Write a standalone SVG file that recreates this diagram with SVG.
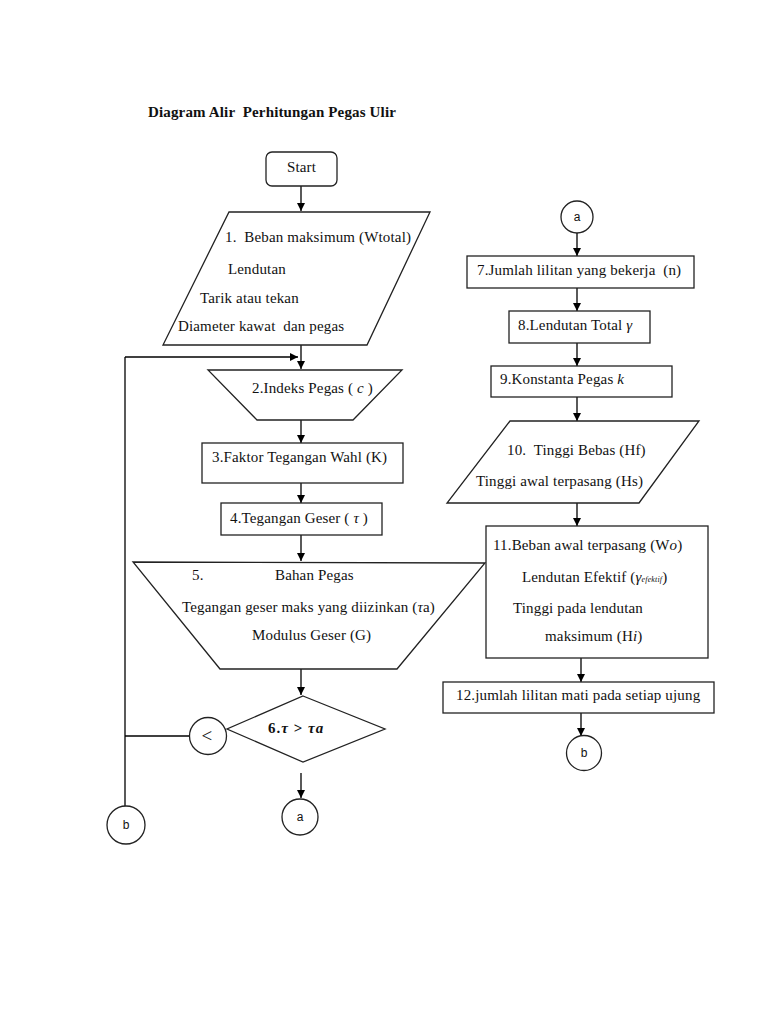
<svg xmlns="http://www.w3.org/2000/svg" width="768" height="1024" viewBox="0 0 768 1024" xml:space="preserve">
<defs>
<marker id="ah" markerWidth="10" markerHeight="10" refX="9" refY="5" orient="auto" markerUnits="userSpaceOnUse">
<path d="M1,1 L9,5 L1,9 Z" fill="#000"/>
</marker>
</defs>
<style>
.s{fill:#fff;stroke:#222;stroke-width:1.3}
.t{font-family:"Liberation Serif","Times New Roman",serif;font-size:15px;letter-spacing:0.15px;fill:#111;white-space:pre}
.c{stroke:#000;stroke-width:1.3;fill:none}
.i{font-style:italic}
.l{font-family:"Liberation Sans",Arial,sans-serif;font-size:12px;fill:#111}
</style>
<rect width="768" height="1024" fill="#fff"/>
<text class="t" x="148" y="117" font-weight="bold">Diagram Alir  Perhitungan Pegas Ulir</text>

<g id="connectors">
<line class="c" x1="301" y1="186" x2="301" y2="211" marker-end="url(#ah)"/>
<line class="c" x1="301" y1="345" x2="301" y2="369" marker-end="url(#ah)"/>
<line class="c" x1="125" y1="806" x2="125" y2="357"/>
<line class="c" x1="125" y1="357" x2="298" y2="357" marker-end="url(#ah)"/>
<line class="c" x1="301" y1="420" x2="301" y2="443" marker-end="url(#ah)"/>
<line class="c" x1="301" y1="483" x2="301" y2="503" marker-end="url(#ah)"/>
<line class="c" x1="301" y1="535" x2="301" y2="561" marker-end="url(#ah)"/>
<line class="c" x1="301" y1="669" x2="301" y2="695" marker-end="url(#ah)"/>
<line class="c" x1="190" y1="736" x2="125" y2="736" stroke="#555"/>
<line class="c" x1="301" y1="773" x2="301" y2="798" marker-end="url(#ah)"/>
<line class="c" x1="577" y1="233" x2="577" y2="256" marker-end="url(#ah)"/>
<line class="c" x1="577" y1="288" x2="577" y2="311" marker-end="url(#ah)"/>
<line class="c" x1="577" y1="343" x2="577" y2="366" marker-end="url(#ah)"/>
<line class="c" x1="577" y1="397" x2="577" y2="421" marker-end="url(#ah)"/>
<line class="c" x1="577" y1="503" x2="577" y2="526" marker-end="url(#ah)"/>
<line class="c" x1="581" y1="658" x2="581" y2="682" marker-end="url(#ah)"/>
<line class="c" x1="581" y1="713" x2="581" y2="736" marker-end="url(#ah)"/>
</g>

<g id="start">
<rect class="s" x="266" y="152" width="71" height="34" rx="6"/>
<text class="t" x="301.5" y="172" text-anchor="middle">Start</text>
</g>

<g id="n1">
<polygon class="s" points="229,212 430,212 367,345 163,345"/>
<text class="t" x="225" y="242">1.  Beban maksimum (Wtotal)</text>
<text class="t" x="228" y="274">Lendutan</text>
<text class="t" x="200" y="303">Tarik atau tekan</text>
<text class="t" x="178" y="331">Diameter kawat  dan pegas</text>
</g>

<g id="n2">
<polygon class="s" points="208,370 402,370 353,420 257,420"/>
<text class="t" x="252" y="393">2.Indeks Pegas ( <tspan class="i">c</tspan> )</text>
</g>

<g id="n3">
<rect class="s" x="202" y="443" width="201" height="40"/>
<text class="t" x="212" y="462">3.Faktor Tegangan Wahl (K)</text>
</g>

<g id="n4">
<rect class="s" x="221" y="503" width="161" height="32"/>
<text class="t" x="230" y="523">4.Tegangan Geser ( <tspan class="i">τ</tspan> )</text>
</g>

<g id="n5">
<polygon class="s" points="133,562 485,563 397,669 220,669"/>
<text class="t" x="192" y="580">5.</text>
<text class="t" x="275" y="580">Bahan Pegas</text>
<text class="t" x="182" y="612">Tegangan geser maks yang diizinkan (<tspan class="i">τ</tspan>a)</text>
<text class="t" x="252" y="640">Modulus Geser (G)</text>
</g>

<g id="n6">
<polygon class="s" points="303,696 385,729 303,762 227,729"/>
<text class="t" x="268" y="733" font-weight="bold" style="letter-spacing:1px">6.<tspan class="i">τ</tspan> &gt; <tspan class="i">τa</tspan></text>
</g>

<g id="lt">
<circle class="s" cx="208" cy="736" r="18.5"/>
<text class="t" x="207" y="742" text-anchor="middle" style="font-size:19px">&lt;</text>
</g>

<g id="a1">
<circle class="s" cx="300" cy="817" r="18"/>
<text class="l" x="300" y="821" text-anchor="middle">a</text>
</g>

<g id="b1">
<circle class="s" cx="126" cy="825" r="19"/>
<text class="l" x="126" y="829" text-anchor="middle">b</text>
</g>

<g id="a2">
<circle class="s" cx="577" cy="217" r="16"/>
<text class="l" x="577" y="221" text-anchor="middle">a</text>
</g>

<g id="n7">
<rect class="s" x="467" y="256" width="227" height="32"/>
<text class="t" x="477" y="275">7.Jumlah lilitan yang bekerja  (n)</text>
</g>

<g id="n8">
<rect class="s" x="509" y="311" width="141" height="32"/>
<text class="t" x="518" y="330">8.Lendutan Total <tspan class="i">γ</tspan></text>
</g>

<g id="n9">
<rect class="s" x="491" y="366" width="181" height="31"/>
<text class="t" x="500" y="384">9.Konstanta Pegas <tspan class="i">k</tspan></text>
</g>

<g id="n10">
<polygon class="s" points="510,421 699,421 639,503 447,503"/>
<text class="t" x="507" y="455">10.  Tinggi Bebas (Hf)</text>
<text class="t" x="476" y="486">Tinggi awal terpasang (Hs)</text>
</g>

<g id="n11">
<rect class="s" x="486" y="526" width="222" height="132"/>
<text class="t" x="493" y="550">11.Beban awal terpasang (W<tspan class="i">o</tspan>)</text>
<text class="t" x="522" y="582">Lendutan Efektif (<tspan class="i">γ</tspan><tspan font-size="8" class="i">efektif</tspan>)</text>
<text class="t" x="513" y="613">Tinggi pada lendutan</text>
<text class="t" x="545" y="641">maksimum (H<tspan class="i">i</tspan>)</text>
</g>

<g id="n12">
<rect class="s" x="443" y="682" width="271" height="31"/>
<text class="t" x="456" y="700">12.jumlah lilitan mati pada setiap ujung</text>
</g>

<g id="b2">
<circle class="s" cx="584" cy="753" r="17.5"/>
<text class="l" x="584" y="757" text-anchor="middle">b</text>
</g>
</svg>
